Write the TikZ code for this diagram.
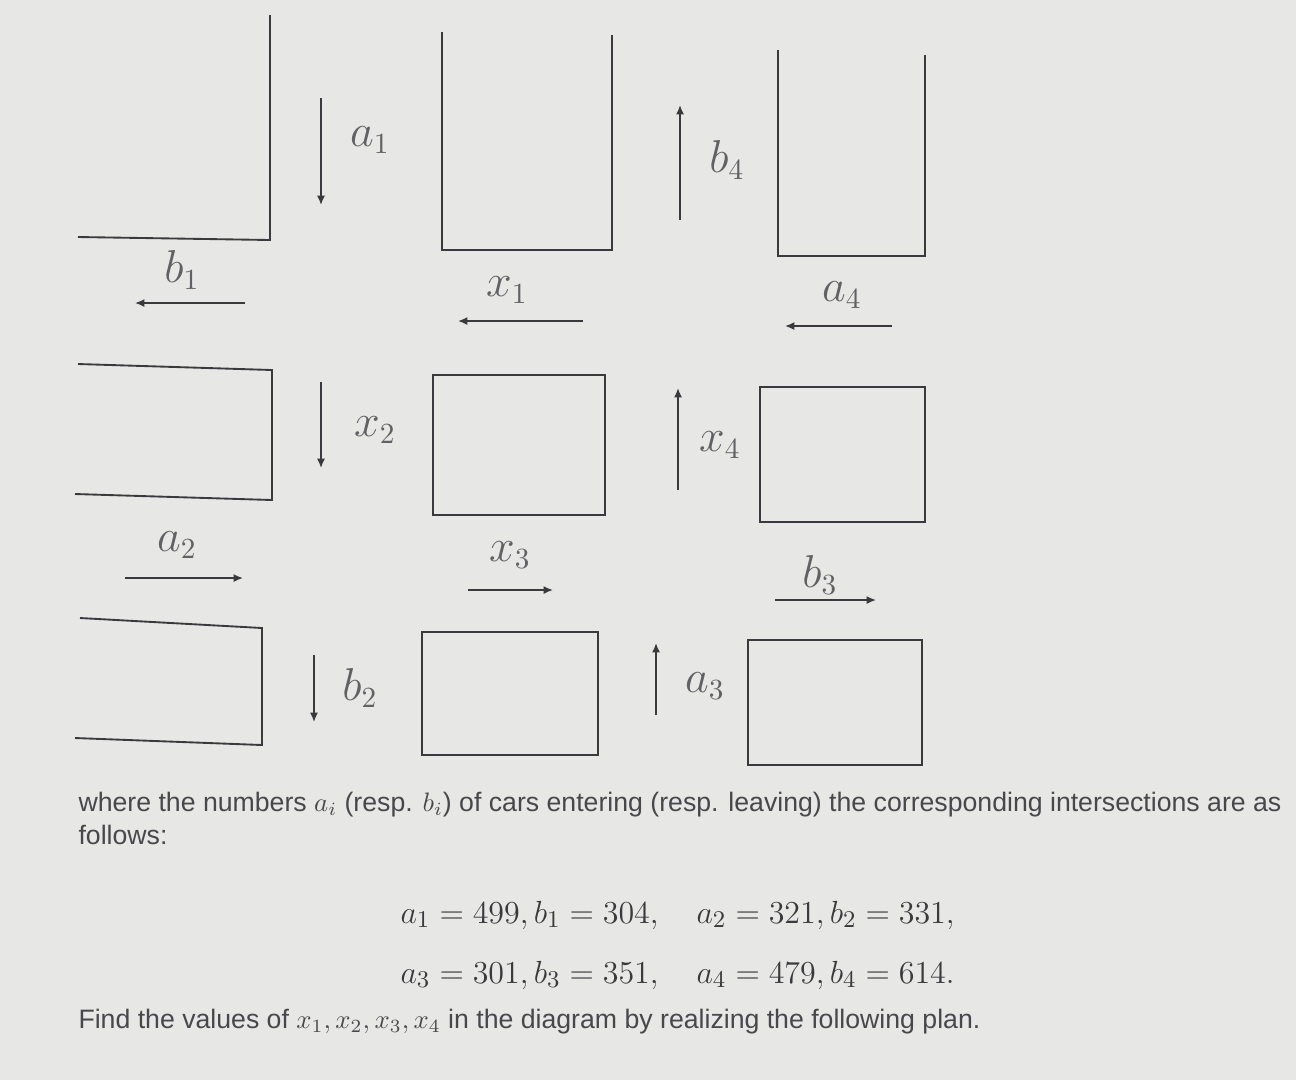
\documentclass[tikz,border=0pt]{standalone}
\usepackage{amsmath,amssymb}
\usepackage{fontspec}
\newfontfamily\uifont{Liberation Sans}
\usetikzlibrary{arrows.meta}
\definecolor{paper}{RGB}{231,231,229}
\definecolor{ink}{RGB}{58,58,62}
\definecolor{txt}{RGB}{72,72,76}

\tikzset{
  blk/.style={draw=ink, line width=0.7pt},
  flow/.style={draw=ink, line width=0.6pt, -{Latex[length=3.5pt,width=3pt]}},
  lbl/.style={inner sep=0.75pt, text=ink!80, font=\fontsize{16}{19}\selectfont},
  para/.style={anchor=west, inner sep=0.75pt, text=txt, font=\uifont\fontsize{10}{12}\selectfont},
  eqn/.style={anchor=west, inner sep=0.75pt, text=ink, font=\fontsize{12.2}{14}\selectfont},
}

\begin{document}
\begin{tikzpicture}[x=0.375pt,y=0.375pt,yscale=-1,xscale=1]
    % background
    \fill[paper] (0,0) rectangle (1296,1080);
    \useasboundingbox (0,0) rectangle (1296,1080);

    %Shape: top row blocks
    \draw[blk] (270,15) -- (270,240) -- (78,237);
    \draw[blk] (442,32) -- (442,250) -- (612,250) -- (612,35);
    \draw[blk] (778,50) -- (778,256) -- (925,256) -- (925,55);
    %Shape: middle row blocks
    \draw[blk] (78,364) -- (272,370) -- (272,500) -- (75,494);
    \draw[blk] (433,375) rectangle (605,515);
    \draw[blk] (760,387) rectangle (925,522);
    %Shape: bottom row blocks
    \draw[blk] (80,618) -- (262,628) -- (262,745) -- (75,738);
    \draw[blk] (422,632) rectangle (598,755);
    \draw[blk] (748,640) rectangle (922,765);

    % arrow ends
    \coordinate (a1s) at (321,98);  \coordinate (a1e) at (321,205);
    \coordinate (b4s) at (680,220); \coordinate (b4e) at (680,105);
    \coordinate (b1s) at (245,303); \coordinate (b1e) at (135,303);
    \coordinate (x1s) at (583,321); \coordinate (x1e) at (458,321);
    \coordinate (a4s) at (892,326); \coordinate (a4e) at (785,326);
    \coordinate (x2s) at (321,382); \coordinate (x2e) at (321,468);
    \coordinate (x4s) at (678,490); \coordinate (x4e) at (678,388);
    \coordinate (a2s) at (125,578); \coordinate (a2e) at (243,578);
    \coordinate (x3s) at (468,590); \coordinate (x3e) at (553,590);
    \coordinate (b3s) at (775,600); \coordinate (b3e) at (876,600);
    \coordinate (b2s) at (314,655); \coordinate (b2e) at (314,722);
    \coordinate (a3s) at (656,715); \coordinate (a3e) at (656,643);

    % arrows
    \draw[flow] (a1s) -- (a1e);
    \draw[flow] (b4s) -- (b4e);
    \draw[flow] (b1s) -- (b1e);
    \draw[flow] (x1s) -- (x1e);
    \draw[flow] (a4s) -- (a4e);
    \draw[flow] (x2s) -- (x2e);
    \draw[flow] (x4s) -- (x4e);
    \draw[flow] (a2s) -- (a2e);
    \draw[flow] (x3s) -- (x3e);
    \draw[flow] (b3s) -- (b3e);
    \draw[flow] (b2s) -- (b2e);
    \draw[flow] (a3s) -- (a3e);

    % Text Node
    \node[lbl] (la1) at (370,140) {$a_1$};
    \node[lbl] (lb4) at (727,160) {$b_4$};
    \node[lbl] (lb1) at (182,270) {$b_1$};
    \node[lbl] (lx1) at (507,290) {$x_1$};
    \node[lbl] (la4) at (842,295) {$a_4$};
    \node[lbl] (lx2) at (375,430) {$x_2$};
    \node[lbl] (lx4) at (720,445) {$x_4$};
    \node[lbl] (la2) at (177,545) {$a_2$};
    \node[lbl] (lx3) at (510,555) {$x_3$};
    \node[lbl] (lb3) at (820,575) {$b_3$};
    \node[lbl] (lb2) at (360,688) {$b_2$};
    \node[lbl] (la3) at (705,686) {$a_3$};

    % Text Node
    \node[para] (where) at (76,805) {where the numbers $a_i$ (resp. $b_i$) of cars entering (resp. leaving) the corresponding intersections are as};
    \node[para] (follows) at (76,835) {follows:};
    \node[eqn] (eqa) at (398,915) {$a_1 = 499, b_1 = 304,\quad a_2 = 321, b_2 = 331,$};
    \node[eqn] (eqb) at (398,975) {$a_3 = 301, b_3 = 351,\quad a_4 = 479, b_4 = 614.$};
    \node[para] (find) at (76,1022) {Find the values of $x_1, x_2, x_3, x_4$ in the diagram by realizing the following plan.};
\end{tikzpicture}
\end{document}
